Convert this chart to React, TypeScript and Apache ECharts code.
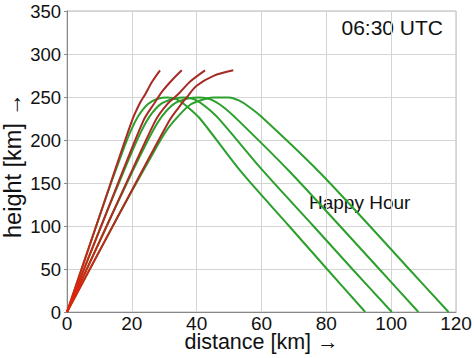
import React, { useEffect, useRef } from "react";
import * as echarts from "echarts";

type Pt = [number, number];

// distance [km], height [km]
const red1: Pt[] = [[0, 0], [10, 111], [20, 222], [22.5, 243], [24.1, 253], [26.3, 268], [28.7, 281]];
const red2: Pt[] = [[0, 0], [11.7, 111], [23.5, 222], [27, 243], [29.5, 257], [32.5, 270], [35.4, 281]];
const red3: Pt[] = [[0, 0], [13.6, 111], [27.2, 222], [31, 242], [34.5, 254], [38, 268], [42.6, 281]];
const red4: Pt[] = [[0, 0], [15.7, 111], [31.5, 222], [34.5, 238], [36.9, 249.5], [40, 263], [45.2, 274.6], [51.3, 281]];

const green1: Pt[] = [[0, 0], [10, 111], [13.6, 150], [17, 185], [19.6, 210], [22, 228], [25, 242], [28, 248], [31, 249.5], [34, 247], [37, 239], [41, 225], [53.5, 164], [68.5, 100], [80.2, 50], [92, 0]];
const green2: Pt[] = [[0, 0], [11.7, 111], [16, 150], [19.9, 185], [22.9, 210], [25.6, 228], [29, 242], [33, 248], [36, 249.5], [39.5, 247], [43, 238], [47, 224], [60.5, 164], [76, 100], [88, 50], [100.2, 0]];
const green3: Pt[] = [[0, 0], [13.6, 111], [18.5, 150], [23, 185], [26.4, 210], [29.4, 228], [33, 242], [37, 248], [41, 249.5], [44.5, 247], [48, 239], [52.5, 224], [68.5, 164], [84.2, 100], [96.3, 50], [108.4, 0]];
const green4: Pt[] = [[0, 0], [15.7, 111], [21.4, 150], [26.6, 185], [30.5, 210], [34.4, 228], [38, 241], [42, 247], [45, 249.5], [50, 249.5], [53, 246], [56, 239], [60, 227], [77.5, 164], [93.4, 100], [105.5, 50], [117.7, 0]];

const redCurves = [red1, red2, red3, red4];
const greenCurves = [green1, green2, green3, green4];

const xTitle = "distance [km] \u2192";
const yTitle = "height [km] \u2192";
const timeLabel = "06:30 UTC";
const noteLabel = "Happy Hour";

const FONT = "'Liberation Sans', Arial, sans-serif";

export default function App() {
  const ref = useRef<HTMLDivElement>(null);
  useEffect(() => {
    document.body.style.margin = "0";
    const chart = echarts.init(ref.current!, undefined, { renderer: "svg" });
    const redGrad = new echarts.graphic.LinearGradient(0, 0, 0, 1, [
      { offset: 0, color: "#a52a26" },
      { offset: 0.6, color: "#b02a20" },
      { offset: 1, color: "#e8200c" },
    ]);
    const series: any[] = [];
    greenCurves.forEach((c, i) => {
      series.push({
        type: "line",
        name: "g" + i,
        data: c,
        symbol: "none",
        smooth: 0.3,
        lineStyle: { color: "#2ca02c", width: 2 },
        z: 2,
      });
    });
    redCurves.forEach((c, i) => {
      series.push({
        type: "line",
        name: "r" + i,
        data: c,
        symbol: "none",
        smooth: 0.3,
        lineStyle: { color: redGrad, width: 2 },
        z: 3,
      });
    });
    chart.setOption({
      animation: false,
      backgroundColor: "#ffffff",
      textStyle: { fontFamily: FONT },
      grid: {
        left: 67,
        top: 11,
        width: 389,
        height: 301,
        show: true,
        borderColor: "#b8b8b8",
        borderWidth: 1,
        containLabel: false,
        outerBoundsMode: "none",
      },
      xAxis: {
        type: "value",
        min: 0,
        max: 120,
        interval: 20,
        name: xTitle,
        nameLocation: "middle",
        nameGap: 20,
        nameMoveOverlap: false,
        nameTextStyle: { fontSize: 21.5, lineHeight: 19, color: "#111", fontFamily: FONT },
        axisLine: { show: true, lineStyle: { color: "#888", width: 1 } },
        axisTick: { show: false },
        axisLabel: { fontSize: 19, lineHeight: 15, color: "#111", margin: 4, fontFamily: FONT },
        splitLine: { show: true, lineStyle: { color: "#d4d4d4", width: 1 } },
      },
      yAxis: {
        type: "value",
        min: 0,
        max: 350,
        interval: 50,
        name: yTitle,
        nameLocation: "middle",
        nameGap: 42,
        nameMoveOverlap: false,
        nameTextStyle: { fontSize: 23.5, color: "#111", fontFamily: FONT, padding: [0, 8, 0, 0] },
        axisLine: { show: true, lineStyle: { color: "#888", width: 1 } },
        axisTick: { show: true, length: 3, lineStyle: { color: "#888" } },
        axisLabel: { fontSize: 18.5, color: "#111", margin: 6, fontFamily: FONT },
        splitLine: { show: true, lineStyle: { color: "#d4d4d4", width: 1 } },
      },
      graphic: [
        {
          type: "text",
          right: 31,
          top: 17,
          style: { text: timeLabel, fontSize: 21, fill: "#111", fontFamily: FONT },
        },
        {
          type: "text",
          left: 309,
          top: 193,
          style: { text: noteLabel, fontSize: 19, fill: "#111", fontFamily: FONT },
        },
      ],
      series,
    });
    return () => chart.dispose();
  }, []);
  return <div ref={ref} style={{ width: 474, height: 358 }} />;
}
